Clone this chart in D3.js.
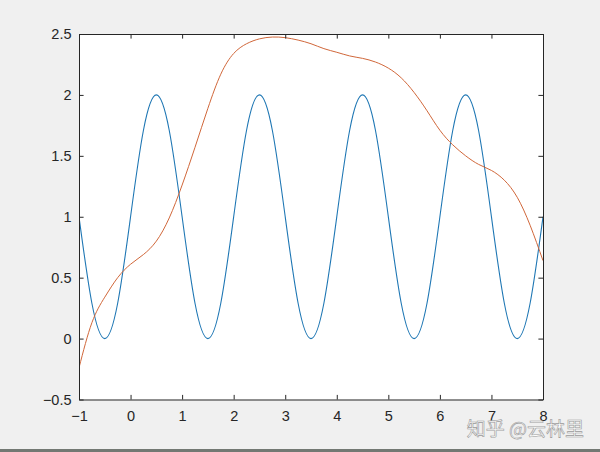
<!DOCTYPE html>
<html>
<head>
<meta charset="utf-8">
<script src="https://cdn.jsdelivr.net/npm/d3@7"></script>
<style>
html,body{margin:0;padding:0;background:#f0f0f0;}
svg{display:block;}
</style>
</head>
<body>
<svg id="chart" width="600" height="452"></svg>
<script>
// x positions of samples (step 0.25 from -1 to 8)
const xValues = [-1,-0.75,-0.5,-0.25,0,0.25,0.5,0.75,1,1.25,1.5,1.75,2,2.25,2.5,2.75,3,3.25,3.5,3.75,4,4.25,4.5,4.75,5,5.25,5.5,5.75,6,6.25,6.5,6.75,7,7.25,7.5,7.75,8];
// blue series
const blueValues = [1,0.29,0,0.29,1,1.71,2,1.71,1,0.29,0,0.29,1,1.71,2,1.71,1,0.29,0,0.29,1,1.71,2,1.71,1,0.29,0,0.29,1,1.71,2,1.71,1,0.29,0,0.29,1];
// orange series
const orangeValues = [-0.24,0.13,0.34,0.50,0.61,0.69,0.80,0.99,1.26,1.57,1.89,2.17,2.34,2.42,2.46,2.475,2.47,2.45,2.42,2.38,2.35,2.32,2.30,2.27,2.22,2.14,2.02,1.87,1.71,1.59,1.50,1.43,1.38,1.30,1.16,0.93,0.64];
const xTicks = [-1,0,1,2,3,4,5,6,7,8];
const yTicks = [-0.5,0,0.5,1,1.5,2,2.5];
const xDomain = [-1,8];
const yDomain = [-0.5,2.5];

const svg = d3.select('#chart');
const L = 79, R = 543, T = 34, B = 399.5;
const x = d3.scaleLinear().domain(xDomain).range([L,R]);
const y = d3.scaleLinear().domain(yDomain).range([B,T]);

svg.append('rect').attr('x',0).attr('y',0).attr('width',600).attr('height',452).attr('fill','#f0f0f0');
svg.append('rect').attr('x',0).attr('y',449).attr('width',600).attr('height',3).attr('fill','#737873');
svg.append('rect').attr('x',L).attr('y',T).attr('width',R-L).attr('height',B-T).attr('fill','#ffffff');

svg.append('clipPath').attr('id','clip').append('rect')
  .attr('x',L).attr('y',T).attr('width',R-L).attr('height',B-T);

const line = d3.line().x(d=>x(d[0])).y(d=>y(d[1])).curve(d3.curveNatural);
const g = svg.append('g').attr('clip-path','url(#clip)');
g.append('path').datum(xValues.map((v,i)=>[v,blueValues[i]]))
  .attr('d',line).attr('fill','none').attr('stroke','#1f77b4').attr('stroke-width',1.1);
g.append('path').datum(xValues.map((v,i)=>[v,orangeValues[i]]))
  .attr('d',line).attr('fill','none').attr('stroke','#d0673a').attr('stroke-width',1.0);

const axisColor = '#262626';
const font = '"Liberation Sans", Arial, Helvetica, sans-serif';
const tl = 4.6;

const xAxisB = d3.axisBottom(x).tickValues(xTicks).tickSizeInner(-tl).tickSizeOuter(0).tickPadding(11.5).tickFormat(d3.format('~g'));
const xAxisT = d3.axisTop(x).tickValues(xTicks).tickSizeInner(-tl).tickSizeOuter(0).tickFormat('');
const yAxisL = d3.axisLeft(y).tickValues(yTicks).tickSizeInner(-tl).tickSizeOuter(0).tickPadding(7.5).tickFormat(d3.format('~g'));
const yAxisR = d3.axisRight(y).tickValues(yTicks).tickSizeInner(-tl).tickSizeOuter(0).tickFormat('');

function style(sel){
  sel.selectAll('path').attr('stroke',axisColor).attr('stroke-width',1);
  sel.selectAll('line').attr('stroke',axisColor).attr('stroke-width',1);
  sel.selectAll('text').attr('fill',axisColor).style('font-family',font).style('font-size','14.5px');
}
svg.append('g').attr('transform',`translate(0,${B})`).call(xAxisB).call(style);
svg.append('g').attr('transform',`translate(0,${T})`).call(xAxisT).call(style);
svg.append('g').attr('transform',`translate(${L},0)`).call(yAxisL).call(style);
svg.append('g').attr('transform',`translate(${R},0)`).call(yAxisR).call(style);

svg.append('text').attr('x',584).attr('y',436).attr('text-anchor','end')
  .style('font-family','"Noto Sans CJK SC", sans-serif').style('font-size','19px')
  .attr('fill','#fbfbfb').attr('stroke','#9a9a9a').attr('stroke-width',0.6)
  .text('知乎 @云林里');
</script>
</body>
</html>
